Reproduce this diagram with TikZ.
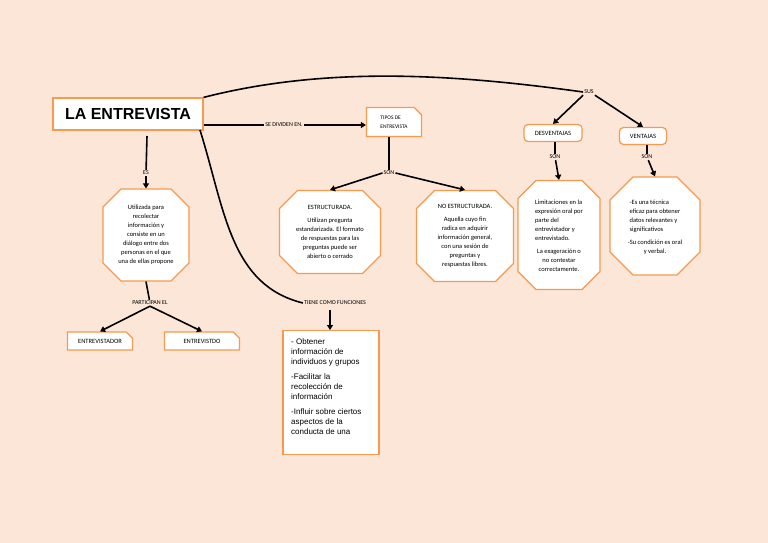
\documentclass[tikz,border=0pt]{standalone}
\usepackage{fontspec}
\setmainfont{Carlito}
\newfontfamily\arialf{Liberation Sans}
\usetikzlibrary{shapes.misc,arrows.meta}
\definecolor{bgc}{HTML}{FCE6D8}
\definecolor{orb}{HTML}{F59A50}
\begin{document}
\begin{tikzpicture}[x=1pt,y=-1pt,
  box/.style={draw=orb,line width=1.2pt,fill=white,inner sep=2pt,font=\fontsize{6.5}{9}\selectfont,align=center},
  oct/.style={box,chamfered rectangle,chamfered rectangle xsep=9pt,chamfered rectangle ysep=9pt},
  rbox/.style={box,rounded corners=4pt},
  lbl/.style={font=\fontsize{6}{7}\selectfont,inner sep=1pt},
  ln/.style={line width=1.6pt},
  arr/.style={ln,-{Triangle[length=5pt,width=6pt]}}]
\fill[bgc] (0,0) rectangle (768,543);
\useasboundingbox (0,0) rectangle (768,543);
\node[box,minimum width=150pt,minimum height=32pt,font=\arialf\bfseries\fontsize{16}{18}\selectfont] (t) at (128,114) {LA ENTREVISTA};
\node[box,chamfered rectangle,chamfered rectangle corners={north east},chamfered rectangle xsep=4pt,minimum width=55pt,minimum height=29pt,align=left,font=\fontsize{5.5}{9}\selectfont] (tipos) at (394,122) {TIPOS DE\\ENTREVISTA};
\node[lbl] (sed) at (284,125) {SE DIVIDEN EN.};
\draw[ln] (t.east|-sed) -- (sed);
\draw[arr] (sed) -- (tipos.west|-sed);
\node[lbl] (es) at (146,173) {ES};
\draw[ln] (147,136) -- (es);
\node[oct,minimum width=86pt,minimum height=92pt] (b1) at (146,235) {Utilizada para\\recolectar\\información y\\consiste en un\\diálogo entre dos\\personas en el que\\una de ellas propone};
\draw[arr] (es) -- (b1.north);
\node[lbl] (part) at (150,303) {PARTICIPAN EL};
\draw[ln] (b1.south) -- (part);
\node[box,minimum width=65pt,minimum height=18pt,chamfered rectangle,chamfered rectangle corners={north east},chamfered rectangle xsep=3pt] (e1) at (100,341) {ENTREVISTADOR};
\node[box,minimum width=75pt,minimum height=18pt,chamfered rectangle,chamfered rectangle corners={north east},chamfered rectangle xsep=3pt] (e2) at (202,341) {ENTREVISTDO};
\draw[arr] (part.south) -- (e1.north);
\draw[arr] (part.south) -- (e2.north);
\node[lbl] (tiene) at (335,303) {TIENE COMO FUNCIONES};
\draw[ln] (200,130) .. controls (225,210) and (230,285) .. (tiene.west);
\node[box,chamfered rectangle,chamfered rectangle corners={north east},chamfered rectangle xsep=12pt,chamfered rectangle ysep=12pt,inner sep=0pt,minimum width=96pt,minimum height=124pt,anchor=north] (f) at (331,330) {};
\node[anchor=north west,align=left,inner sep=0pt,font=\arialf\fontsize{8}{10}\selectfont] (ft) at (291,338) {- Obtener\\información de\\individuos y grupos\\[5pt]-Facilitar la\\recolección de\\información\\[5pt]-Influir sobre ciertos\\aspectos de la\\conducta de una};
\draw[arr] (330,310) -- (f.north-|330,0);
\node[lbl] (son) at (389,173) {SON};
\draw[ln] (tipos.south-|son) -- (son);
\node[oct,minimum width=101pt,minimum height=83pt] (es1) at (330,232) {ESTRUCTURADA.\\[4pt]Utilizan pregunta\\estandarizada. El formato\\de respuestas para las\\preguntas puede ser\\abierto o cerrado};
\node[oct,minimum width=97pt,minimum height=91pt] (es2) at (465,236) {NO ESTRUCTURADA.\\[4pt]Aquella cuyo fin\\radica en adquirir\\información general,\\con una sesión de\\preguntas y\\respuestas libres.};
\draw[arr] (son.west) -- (es1.north);
\draw[arr] (son.east) -- (es2.north);
\node[lbl] (sus) at (589,92) {SUS};
\draw[ln] (t.north east) .. controls (330,65) and (460,75) .. (sus.west);
\node[rbox,minimum width=58pt,minimum height=17pt] (dv) at (553,133) {DESVENTAJAS};
\node[rbox,minimum width=47pt,minimum height=17pt] (v) at (643,136) {VENTAJAS};
\draw[arr] (sus.south west) -- (dv.north);
\draw[arr] (sus.south east) -- (v.north);
\node[lbl] (son2) at (555,157) {SON};
\node[lbl] (son3) at (647,157) {SON};
\draw[ln] (dv.south-|son2) -- (son2);
\draw[ln] (v.south-|son3) -- (son3);
\node[oct,minimum width=82pt,minimum height=109pt] (d1) at (559,235) {\begin{tabular}{@{}l@{}}Limitaciones en la\\expresión oral por\\parte del\\entrevistador y\\entrevistado.\end{tabular}\\[5pt]La exageración o\\no contestar\\correctamente.};
\node[oct,minimum width=90pt,minimum height=98pt,chamfered rectangle xsep=14pt] (v1) at (655,226) {\begin{tabular}{@{}l@{}}-Es una técnica\\eficaz para obtener\\datos relevantes y\\significativos\end{tabular}\\[5pt]-Su condición es oral\\y verbal.};
\draw[arr] (son2) -- (d1.north);
\draw[arr] (son3) -- (v1.north);
\end{tikzpicture}
\end{document}
